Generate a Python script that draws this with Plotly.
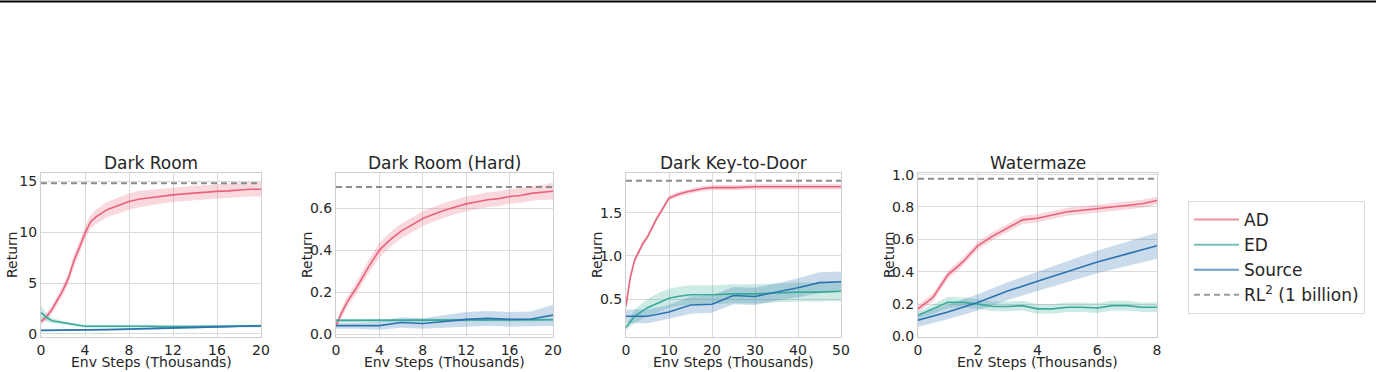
import plotly.graph_objects as go

# ---------------- data ----------------
titles = ["Dark Room", "Dark Room (Hard)", "Dark Key-to-Door", "Watermaze"]
rl2 = [14.8, 0.70, 1.87, 0.975]

# Dark Room
dr_x = [0, 0.5, 1, 1.5, 2, 2.5, 3, 3.5, 4, 4.5, 5, 6, 7, 8, 9, 10, 11, 12, 13, 14, 15, 16, 17, 18, 19, 20]
dr_ad = [1.2, 1.7, 2.4, 3.4, 4.3, 5.5, 7.2, 8.5, 9.9, 11.0, 11.5, 12.2, 12.6, 13.0, 13.25, 13.4, 13.55, 13.65, 13.75, 13.85, 13.9, 14.0, 14.05, 14.15, 14.2, 14.2]
dr_ad_err = [0.3, 0.35, 0.4, 0.45, 0.5, 0.55, 0.6, 0.6, 0.6, 0.65, 0.7, 0.75, 0.8, 0.8, 0.8, 0.75, 0.75, 0.7, 0.7, 0.7, 0.7, 0.7, 0.7, 0.7, 0.7, 0.7]
dr_ed = [2.1, 1.6, 1.3, 1.2, 1.1, 1.0, 0.9, 0.8, 0.75, 0.75, 0.75, 0.75, 0.8, 0.8, 0.78, 0.75, 0.72, 0.7, 0.7, 0.72, 0.74, 0.75, 0.75, 0.76, 0.77, 0.78]
dr_ed_err = [0.7, 0.4, 0.25, 0.2, 0.18, 0.16, 0.15, 0.15, 0.15, 0.15, 0.15, 0.15, 0.15, 0.15, 0.15, 0.15, 0.15, 0.15, 0.15, 0.15, 0.15, 0.15, 0.15, 0.15, 0.15, 0.15]
dr_src = [0.35, 0.35, 0.35, 0.35, 0.35, 0.35, 0.35, 0.35, 0.35, 0.37, 0.4, 0.42, 0.45, 0.47, 0.5, 0.52, 0.55, 0.58, 0.6, 0.63, 0.66, 0.7, 0.72, 0.75, 0.78, 0.8]
dr_src_err = [0.08] * 26

# Dark Room (Hard)
drh_x = [0, 0.5, 1, 1.5, 2, 3, 4, 5, 6, 7, 8, 9, 10, 11, 12, 13, 14, 15, 16, 17, 18, 19, 20]
drh_ad = [0.04, 0.1, 0.15, 0.19, 0.23, 0.32, 0.40, 0.45, 0.49, 0.52, 0.55, 0.57, 0.59, 0.605, 0.62, 0.63, 0.64, 0.645, 0.655, 0.66, 0.67, 0.675, 0.68]
drh_ad_err = [0.01, 0.02, 0.025, 0.025, 0.03, 0.03, 0.035, 0.035, 0.035, 0.035, 0.035, 0.035, 0.035, 0.035, 0.035, 0.035, 0.035, 0.035, 0.035, 0.035, 0.035, 0.035, 0.04]
drh_ed_x = [0, 4, 8, 12, 16, 20]
drh_ed = [0.065, 0.065, 0.065, 0.066, 0.067, 0.068]
drh_ed_err = [0.007, 0.007, 0.007, 0.007, 0.007, 0.007]
drh_src_x = [0, 2, 4, 6, 8, 10, 12, 14, 16, 18, 20]
drh_src = [0.04, 0.04, 0.04, 0.055, 0.05, 0.06, 0.07, 0.075, 0.07, 0.072, 0.09]
drh_src_err = [0.015, 0.015, 0.02, 0.025, 0.025, 0.03, 0.035, 0.035, 0.035, 0.035, 0.05]

# Dark Key-to-Door
dkd_x = [0, 1, 2, 3, 4, 5, 6, 7, 8, 9, 10, 12, 14, 16, 18, 20, 25, 30, 35, 40, 45, 50]
dkd_ad = [0.42, 0.75, 0.95, 1.05, 1.15, 1.22, 1.32, 1.42, 1.5, 1.58, 1.67, 1.71, 1.74, 1.76, 1.78, 1.79, 1.79, 1.80, 1.80, 1.80, 1.80, 1.80]
dkd_ad_err = [0.05] + [0.03] * 21
dkd_ed_x = [0, 2, 5, 8, 10, 12, 15, 20, 25, 30, 35, 40, 45, 50]
dkd_ed = [0.17, 0.3, 0.4, 0.47, 0.51, 0.53, 0.55, 0.55, 0.56, 0.56, 0.57, 0.58, 0.58, 0.59]
dkd_ed_err = [0.03, 0.08, 0.1, 0.11, 0.11, 0.11, 0.11, 0.11, 0.11, 0.11, 0.11, 0.11, 0.11, 0.11]
dkd_src_x = [0, 5, 10, 15, 20, 25, 30, 35, 40, 45, 50]
dkd_src = [0.3, 0.3, 0.35, 0.43, 0.44, 0.54, 0.53, 0.58, 0.63, 0.69, 0.70]
dkd_src_err = [0.08, 0.08, 0.08, 0.1, 0.1, 0.1, 0.1, 0.1, 0.11, 0.12, 0.12]

# Watermaze
wm_x = [0, 0.5, 1, 1.5, 2, 2.5, 3, 3.5, 4, 4.5, 5, 5.5, 6, 6.5, 7, 7.5, 8]
wm_ad = [0.17, 0.24, 0.38, 0.46, 0.56, 0.62, 0.67, 0.72, 0.73, 0.75, 0.77, 0.78, 0.79, 0.80, 0.81, 0.82, 0.84]
wm_ad_err = [0.025] * 17
wm_ed = [0.13, 0.17, 0.21, 0.21, 0.20, 0.185, 0.185, 0.19, 0.17, 0.17, 0.18, 0.18, 0.175, 0.19, 0.19, 0.18, 0.18]
wm_ed_err = [0.02, 0.03, 0.035, 0.03, 0.03, 0.03, 0.03, 0.03, 0.03, 0.03, 0.03, 0.03, 0.03, 0.03, 0.03, 0.03, 0.03]
wm_src_x = [0, 1, 2, 3, 4, 5, 6, 7, 8]
wm_src = [0.10, 0.15, 0.21, 0.28, 0.34, 0.40, 0.46, 0.51, 0.56]
wm_src_err = [0.04, 0.045, 0.05, 0.055, 0.06, 0.065, 0.07, 0.075, 0.08]

x_ranges = [[0, 20], [0, 20], [0, 50], [0, 8]]
y_ranges = [[-0.3, 15.8], [-0.014, 0.767], [0.06, 1.96], [-0.004, 1.01]]
x_ticks = [[0, 4, 8, 12, 16, 20], [0, 4, 8, 12, 16, 20], [0, 10, 20, 30, 40, 50], [0, 2, 4, 6, 8]]
y_ticks = [[0, 5, 10, 15], [0.0, 0.2, 0.4, 0.6], [0.5, 1.0, 1.5], [0.0, 0.2, 0.4, 0.6, 0.8, 1.0]]
y_fmt = ["d", ".1f", ".1f", ".1f"]

panels = [
    [(dr_x, dr_ad, dr_ad_err), (dr_x, dr_ed, dr_ed_err), (dr_x, dr_src, dr_src_err)],
    [(drh_x, drh_ad, drh_ad_err), (drh_ed_x, drh_ed, drh_ed_err), (drh_src_x, drh_src, drh_src_err)],
    [(dkd_x, dkd_ad, dkd_ad_err), (dkd_ed_x, dkd_ed, dkd_ed_err), (dkd_src_x, dkd_src, dkd_src_err)],
    [(wm_x, wm_ad, wm_ad_err), (wm_x, wm_ed, wm_ed_err), (wm_src_x, wm_src, wm_src_err)],
]
series_names = ["AD", "ED", "Source"]
colors = ["#e9627c", "#38aa98", "#2c74b0"]
legend_colors = ["rgba(233,98,124,0.7)", "rgba(56,170,152,0.7)", "rgba(44,116,176,0.7)"]
fills = ["rgba(233,98,124,0.25)", "rgba(56,170,152,0.25)", "rgba(44,116,176,0.25)"]

# ---------------- layout geometry ----------------
W, H = 1376, 372
x_doms = [[41 / W, 261 / W], [336 / W, 553 / W], [626 / W, 841 / W], [918 / W, 1157 / W]]
y_dom = [1 - 337 / H, 1 - 173 / H]
FONT = "DejaVu Sans"
TXT = "#262626"

fig = go.Figure()
annotations = []
for i in range(4):
    xa = "x" if i == 0 else f"x{i+1}"
    ya = "y" if i == 0 else f"y{i+1}"
    for k, (xs, ys, es) in enumerate(panels[i]):
        lo = [y - e for y, e in zip(ys, es)]
        hi = [y + e for y, e in zip(ys, es)]
        fig.add_trace(go.Scatter(x=xs, y=lo, mode="lines", line=dict(width=0, color=colors[k]),
                                 showlegend=False, xaxis=xa, yaxis=ya, hoverinfo="skip"))
        fig.add_trace(go.Scatter(x=xs, y=hi, mode="lines", line=dict(width=0, color=colors[k]),
                                 fill="tonexty", fillcolor=fills[k],
                                 showlegend=False, xaxis=xa, yaxis=ya, hoverinfo="skip"))
    for k, (xs, ys, es) in enumerate(panels[i]):
        fig.add_trace(go.Scatter(x=xs, y=ys, mode="lines", line=dict(color=colors[k], width=1.6),
                                 name=series_names[k], showlegend=False, xaxis=xa, yaxis=ya))
    # RL2 dashed line
    fig.add_trace(go.Scatter(x=x_ranges[i], y=[rl2[i], rl2[i]], mode="lines",
                             line=dict(color="#8c8c8c", width=2, dash="6px,4px"),
                             name="RL<sup>2</sup> (1 billion)", showlegend=False,
                             xaxis=xa, yaxis=ya, hoverinfo="skip"))
    axcommon = dict(showgrid=True, gridcolor="#dadada", gridwidth=1, zeroline=False,
                    showline=True, linecolor="#cfcfcf", linewidth=1, mirror=True,
                    ticks="", automargin=False,
                    tickfont=dict(family=FONT, size=14, color=TXT))
    fig.layout[("xaxis" if i == 0 else f"xaxis{i+1}")] = dict(
        domain=x_doms[i], range=x_ranges[i], tickvals=x_ticks[i], anchor=ya, **axcommon)
    fig.layout[("yaxis" if i == 0 else f"yaxis{i+1}")] = dict(
        domain=y_dom, range=y_ranges[i], tickvals=y_ticks[i], tickformat=y_fmt[i], anchor=xa, **axcommon)
    cx = (x_doms[i][0] + x_doms[i][1]) / 2
    annotations.append(dict(text=titles[i], x=cx, y=1 - 163 / H, xref="paper", yref="paper",
                            showarrow=False, font=dict(family=FONT, size=17, color=TXT),
                            xanchor="center", yanchor="middle"))
    annotations.append(dict(text="Env Steps (Thousands)", x=cx, y=1 - 362 / H, xref="paper", yref="paper",
                            showarrow=False, font=dict(family=FONT, size=14, color=TXT),
                            xanchor="center", yanchor="middle"))
    annotations.append(dict(text="Return", x=x_doms[i][0] - 29 / W, y=(y_dom[0] + y_dom[1]) / 2,
                            xref="paper", yref="paper", textangle=-90,
                            showarrow=False, font=dict(family=FONT, size=14, color=TXT),
                            xanchor="center", yanchor="middle"))

# legend-only entries (lighter, as in the reference legend)
for k in range(3):
    fig.add_trace(go.Scatter(x=[None], y=[None], mode="lines",
                             line=dict(color=legend_colors[k], width=2), name=series_names[k]))
fig.add_trace(go.Scatter(x=[None], y=[None], mode="lines",
                         line=dict(color="#9a9a9a", width=2, dash="6px,4px"),
                         name="RL<sup>2</sup> (1 billion)"))

fig.update_layout(
    width=W, height=H,
    margin=dict(l=0, r=0, t=0, b=0),
    paper_bgcolor="white", plot_bgcolor="white",
    font=dict(family=FONT, color=TXT),
    annotations=annotations,
    showlegend=True,
    legend=dict(x=1188 / W, y=1 - 201 / H, xanchor="left", yanchor="top",
                traceorder="normal", itemwidth=45,
                bordercolor="#dddddd", borderwidth=1, bgcolor="white",
                font=dict(family=FONT, size=17, color=TXT), tracegroupgap=0),
    shapes=[dict(type="line", xref="paper", yref="paper", x0=0, x1=1, y0=1 - 1.5 / H, y1=1 - 1.5 / H,
                 line=dict(color="black", width=2))],
)

fig.write_html("out.html", config={"displayModeBar": False},
               post_script="document.body.style.margin='0';document.body.style.overflow='hidden';")
